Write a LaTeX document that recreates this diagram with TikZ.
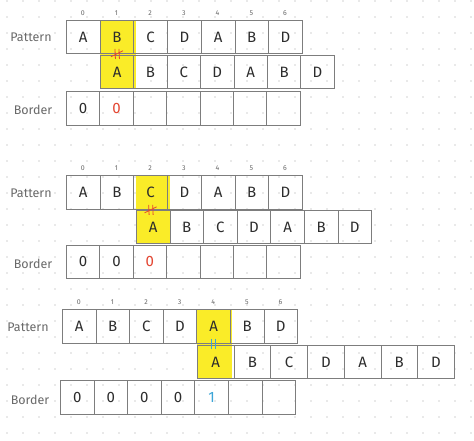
\documentclass[tikz,border=0pt]{standalone}
\usepackage{fontspec}
\setmainfont{Fira Sans}
\definecolor{hilite}{RGB}{250,236,40}
\definecolor{cellline}{RGB}{125,125,125}
\definecolor{celltext}{RGB}{45,45,45}
\definecolor{labelgray}{RGB}{105,105,105}
\definecolor{missred}{RGB}{228,70,50}
\definecolor{hitblue}{RGB}{60,165,215}
\definecolor{griddot}{RGB}{212,212,212}
\tikzset{
  neqmark/.pic = {\draw[missred, line width=0.8pt] (-2,-5) -- (-1.5,5) (2,-5) -- (2.5,5) (-6,3) -- (6,-3);},
  eqmark/.pic = {\draw[hitblue, line width=0.8pt] (-1.8,-5) -- (-1.8,5) (1.8,-5) -- (1.8,5);}
}
\begin{document}
\begin{tikzpicture}[x=1pt, y=-1pt,
    cell/.style = {draw=cellline, line width=0.8pt, inner sep=0pt, anchor=north west, text=celltext, font=\fontsize{15}{15}\selectfont},
    idx/.style = {font=\fontsize{7}{7}\selectfont, text=labelgray},
    rowlabel/.style = {font=\fontsize{12.5}{12.5}\selectfont, text=labelgray}]
    \useasboundingbox[fill=white] (0,0) rectangle (474,440);
    % dotted paper
    \foreach \i in {0,...,29}
      \foreach \j in {0,...,27}
        \fill[griddot] (7+16*\i, 1+16*\j) circle (0.8pt);

    % ---- step 1 : B vs A
    \fill[hilite] (100,20) rectangle (136,88);
    \foreach \c [count=\k from 0] in {A,B,C,D,A,B,D} {
      \node[cell, minimum width=33.7pt, minimum height=33pt] (p1c\k) at (66+33.7*\k, 20) {\c};
      \node[idx] (p1i\k) at (66+33.7*\k+16.8, 13) {\k};
    }
    \foreach \c [count=\k from 0] in {A,B,C,D,A,B,D}
      \node[cell, minimum width=33.4pt, minimum height=33pt] (s1c\k) at (100+33.4*\k, 55) {\c};
    \foreach \v [count=\k from 0] in {0,{\color{missred}0},{},{},{},{},{}}
      \node[cell, minimum width=33.4pt, minimum height=34pt] (b1c\k) at (66+33.4*\k, 91) {\v};
    \pic at (p1c1.south) {neqmark};
    \node[rowlabel] (pat1) at (31,37) {Pattern};
    \node[rowlabel] (bor1) at (33,110) {Border};

    % ---- step 2 : C vs A
    \fill[hilite] (136,175) rectangle (170,243);
    \foreach \c [count=\k from 0] in {A,B,C,D,A,B,D} {
      \node[cell, minimum width=33.7pt, minimum height=34pt] (p2c\k) at (66+33.7*\k, 175) {\c};
      \node[idx] (p2i\k) at (66+33.7*\k+16.8, 168) {\k};
    }
    \foreach \c [count=\k from 0] in {A,B,C,D,A,B,D}
      \node[cell, minimum width=33.6pt, minimum height=33pt] (s2c\k) at (136+33.6*\k, 210) {\c};
    \foreach \v [count=\k from 0] in {0,0,{\color{missred}0},{},{},{},{}}
      \node[cell, minimum width=33.4pt, minimum height=33pt] (b2c\k) at (66+33.4*\k, 245) {\v};
    \pic at (p2c2.south) {neqmark};
    \node[rowlabel] (pat2) at (31,193) {Pattern};
    \node[rowlabel] (bor2) at (33,264) {Border};

    % ---- step 3 : A vs A
    \fill[hilite] (197,309) rectangle (232,378);
    \foreach \c [count=\k from 0] in {A,B,C,D,A,B,D} {
      \node[cell, minimum width=33.6pt, minimum height=34pt] (p3c\k) at (62+33.6*\k, 309) {\c};
      \node[idx] (p3i\k) at (62+33.6*\k+16.8, 302) {\k};
    }
    \foreach \c [count=\k from 0] in {A,B,C,D,A,B,D}
      \node[cell, minimum width=36.7pt, minimum height=33pt] (s3c\k) at (197+36.7*\k, 345) {\c};
    \foreach \v [count=\k from 0] in {0,0,0,0,{\color{hitblue}1},{},{}}
      \node[cell, minimum width=33.6pt, minimum height=34pt] (b3c\k) at (60+33.6*\k, 380) {\v};
    \pic at (p3c4.south) {eqmark};
    \node[rowlabel] (pat3) at (28,327) {Pattern};
    \node[rowlabel] (bor3) at (30,400) {Border};
\end{tikzpicture}
\end{document}
